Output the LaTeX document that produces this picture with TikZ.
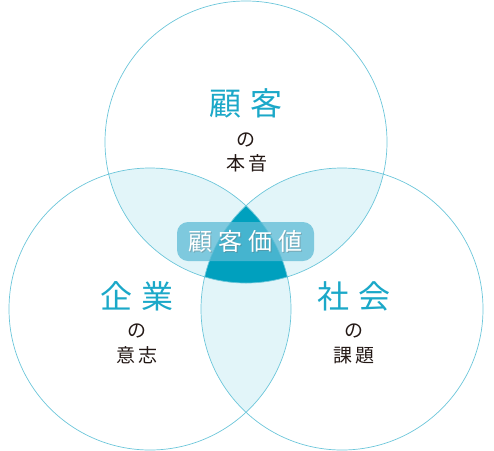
\documentclass[tikz,border=0pt]{standalone}
\usepackage{fontspec}
\newfontfamily\jp{Noto Sans CJK JP}
\definecolor{ring}{HTML}{6CC6DA}
\definecolor{pairfill}{HTML}{E2F5F9}
\definecolor{core}{HTML}{00A0BE}
\definecolor{titlec}{HTML}{1BA8C8}
\definecolor{subc}{HTML}{231815}
\definecolor{boxc}{HTML}{5DBBD5}
\tikzset{
  ringline/.style={draw=ring, line width=0.7pt},
  title/.style={font=\jp\fontsize{32}{36}\selectfont, text=titlec, inner sep=0pt},
  sub/.style={font=\jp\fontsize{19}{21}\selectfont, text=subc, inner sep=0pt},
  valbox/.style={fill=boxc, fill opacity=0.75, rounded corners=11pt, minimum width=137pt, minimum height=39pt, inner sep=0pt},
  valtext/.style={font=\jp\fontsize{24}{28}\selectfont, text=white, inner sep=0pt},
}
\begin{document}
\begin{tikzpicture}[x=1pt,y=-1pt]
\useasboundingbox (0,0) rectangle (494,450);
\coordinate (T) at (246,142);
\coordinate (L) at (150,309);
\coordinate (R) at (342,309);
\def\rr{141}
% pairwise overlaps
\begin{scope}\clip (T) circle (\rr); \fill[pairfill] (L) circle (\rr);\end{scope}
\begin{scope}\clip (T) circle (\rr); \fill[pairfill] (R) circle (\rr);\end{scope}
\begin{scope}\clip (L) circle (\rr); \fill[pairfill] (R) circle (\rr);\end{scope}
% triple overlap
\begin{scope}\clip (T) circle (\rr); \clip (L) circle (\rr); \fill[core] (R) circle (\rr);\end{scope}
% rings
\draw[ringline] (T) circle (\rr);
\draw[ringline] (L) circle (\rr);
\draw[ringline] (R) circle (\rr);
% texts
\node[title] (t1) at (246,103) {顧\hspace{10pt}客};
\node[sub] (t1a) at (246,139.5) {の};
\node[sub] (t1b) at (247,163.5) {本\hspace{3pt}音};
\node[title] (t2) at (137,296) {企\hspace{10pt}業};
\node[sub] (t2a) at (137,330.5) {の};
\node[sub] (t2b) at (137,355.5) {意\hspace{3pt}志};
\node[title] (t3) at (354,296) {社\hspace{10pt}会};
\node[sub] (t3a) at (354,330.5) {の};
\node[sub] (t3b) at (354,355.5) {課\hspace{3pt}題};
% value box
\node[valbox] (vb) at (245.5,241.5) {};
\node[valtext, text=black!60, opacity=0.35] at (246.5,242.5) {顧\hspace{6pt}客\hspace{6pt}価\hspace{6pt}値};
\node[valtext] (vt) at (245.5,241.5) {顧\hspace{6pt}客\hspace{6pt}価\hspace{6pt}値};
\end{tikzpicture}
\end{document}
